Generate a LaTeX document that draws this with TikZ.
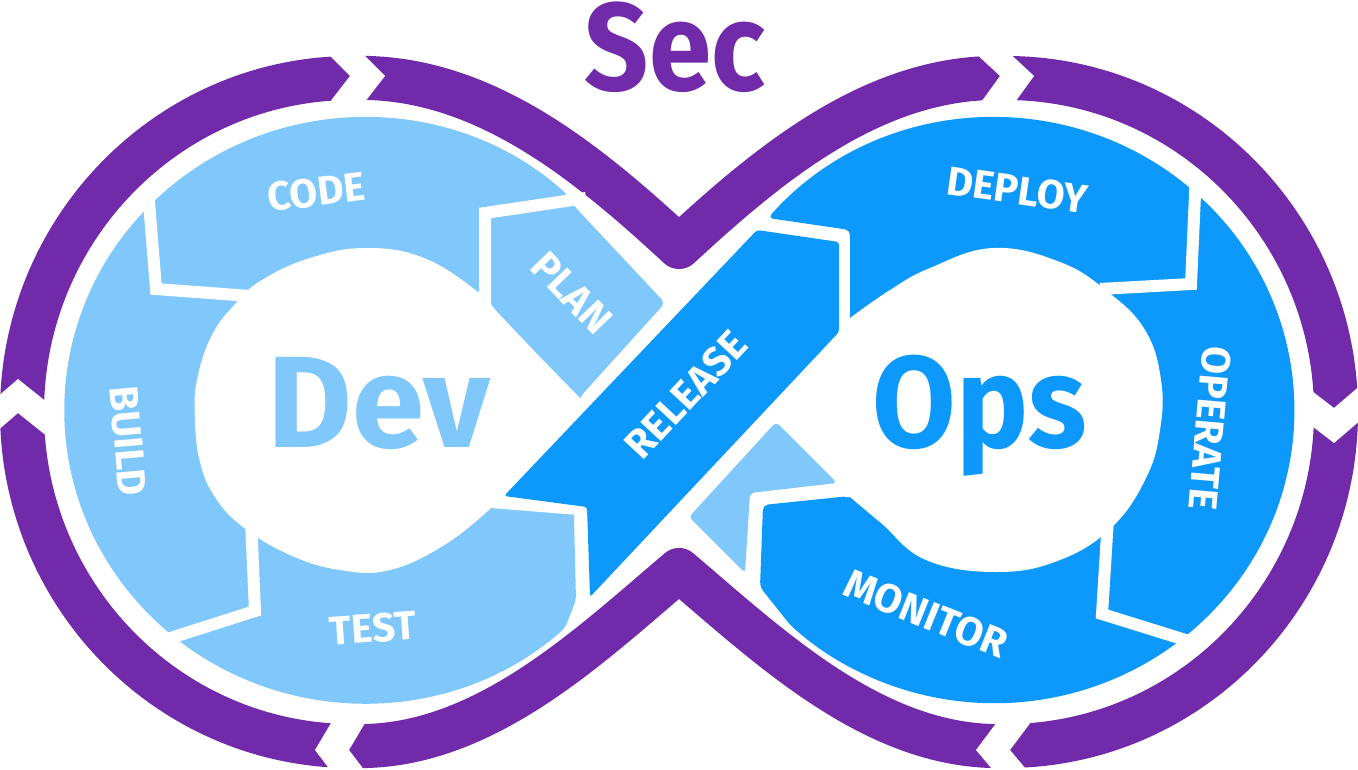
\documentclass[tikz,border=0pt]{standalone}
\usepackage{fontspec}
\setmainfont{Fira Sans}
\definecolor{secpurple}{RGB}{112,42,170}
\definecolor{devblue}{RGB}{128,200,252}
\definecolor{opsblue}{RGB}{13,152,251}
\begin{document}
\begin{tikzpicture}[x=0.01cm, y=-0.01cm,
  stage/.style={text=white, font=\bfseries\fontsize{11.5}{11.5}\selectfont, inner sep=0pt},
  bigword/.style={font=\bfseries\fontsize{37}{37}\selectfont, inner sep=0pt, anchor=base},
  gapline/.style={white, line width=0.12cm}]
\useasboundingbox (0,0) rectangle (1358,770);
% outer Sec loop
\draw[secpurple, line width=0.44cm, line join=round] (22,412) .. controls (22,228) and (170,78) .. (352,78)
  .. controls (480,74) and (585,160) .. (679,247) .. controls (773,160) and (878,74) .. (1006,78)
  .. controls (1188,78) and (1336,228) .. (1336,412) .. controls (1336,596) and (1188,746) .. (1006,746)
  .. controls (878,750) and (773,650) .. (679,570) .. controls (585,650) and (480,750) .. (352,746)
  .. controls (170,746) and (22,596) .. (22,412) -- cycle;
\foreach \ax/\ay/\bx/\by/\cx/\cy/\dx/\dy in {324/50/350/76/326/107/35/0, 972/50/1000/76/979/105/34/0,
  1308/388/1334/408/1362/384/0/35, -4/398/18/379/48/403/0/34,
  334/718/315/750/334/775/34/0, 1000/718/976/750/997/775/34/0}
  \fill[white] (\ax,\ay) -- (\bx,\by) -- (\cx,\cy) -- ([shift={(\dx,\dy)}]\cx,\cy)
    -- ([shift={(\dx,\dy)}]\bx,\by) -- ([shift={(\dx,\dy)}]\ax,\ay) -- cycle;
% Dev ring
\fill[devblue, rounded corners=0.05cm] (576,208) -- (665,303) -- (580,397) -- (574,518) -- (576,600)
  -- (565,628) arc[start angle=48, end angle=312, x radius=300, y radius=293] -- cycle;
% Ops ring
\fill[opsblue, rounded corners=0.05cm] (768,218) arc[start angle=221, end angle=493, x radius=300, y radius=293]
  -- (760,587) -- (763,505) -- (850,496) -- (850,230) -- cycle;
\fill[devblue, rounded corners=0.04cm] (776,422) -- (837,483) -- (750,493) -- (745,573) -- (689,517) -- cycle;
% holes
\fill[white] plot[smooth, tension=0.7] coordinates {(582,400) (540,357) (500,315) (478,292) (424,258)
  (366,248) (310,258) (262,280) (237,302) (212,335) (197,380) (195,420) (200,462) (215,497) (243,527)
  (290,555) (340,570) (390,570) (446,544) (491,508)} -- (578,515) -- (605,514) -- (625,420) -- cycle;
\fill[white] plot[smooth, tension=0.7] coordinates {(850,318) (890,290) (930,268) (993,248) (1060,262)
  (1108,292) (1145,330) (1161,380) (1160,430) (1146,478) (1112,527) (1060,560) (997,572) (926,560)
  (881,523) (850,497)} -- (845,497) -- (845,318) -- cycle;
% gaps between stages
\draw[gapline] (148,190) -- (156,289) -- (250,296);
\draw[gapline] (251,520) -- (255,611) -- (158,642);
\draw[gapline] (586,198) -- (485,213) -- (485,305);
\draw[gapline] (1196,172) -- (1191,284) -- (1100,289);
\draw[gapline] (1108,518) -- (1102,614) -- (1192,642);
% release band
\fill[opsblue, rounded corners=0.03cm] (504,496) -- (757,230) -- (839,242) -- (839,332) -- (590,597) -- (587,507) -- cycle;
% words
\node[bigword, text=secpurple, font=\bfseries\fontsize{35.5}{35.5}\selectfont, xscale=0.9] (sec) at (675,91) {Sec};
\node[bigword, text=devblue] (dev) at (379,447) {Dev};
\node[bigword, text=opsblue, xscale=0.93] (ops) at (980,447) {Ops};
\node[stage, rotate=7] (code) at (316,192) {CODE};
\node[stage, rotate=-46] (plan) at (572,293) {PLAN};
\node[stage, rotate=-85] (build) at (128,441) {BUILD};
\node[stage, rotate=4] (test) at (373,628) {TEST};
\node[stage, rotate=47] (release) at (686,395) {RELEASE};
\node[stage, rotate=-8] (deploy) at (1017,190) {DEPLOY};
\node[stage, rotate=-95] (operate) at (1210,428) {OPERATE};
\node[stage, rotate=-22] (monitor) at (926,614) {MONITOR};
\end{tikzpicture}
\end{document}
